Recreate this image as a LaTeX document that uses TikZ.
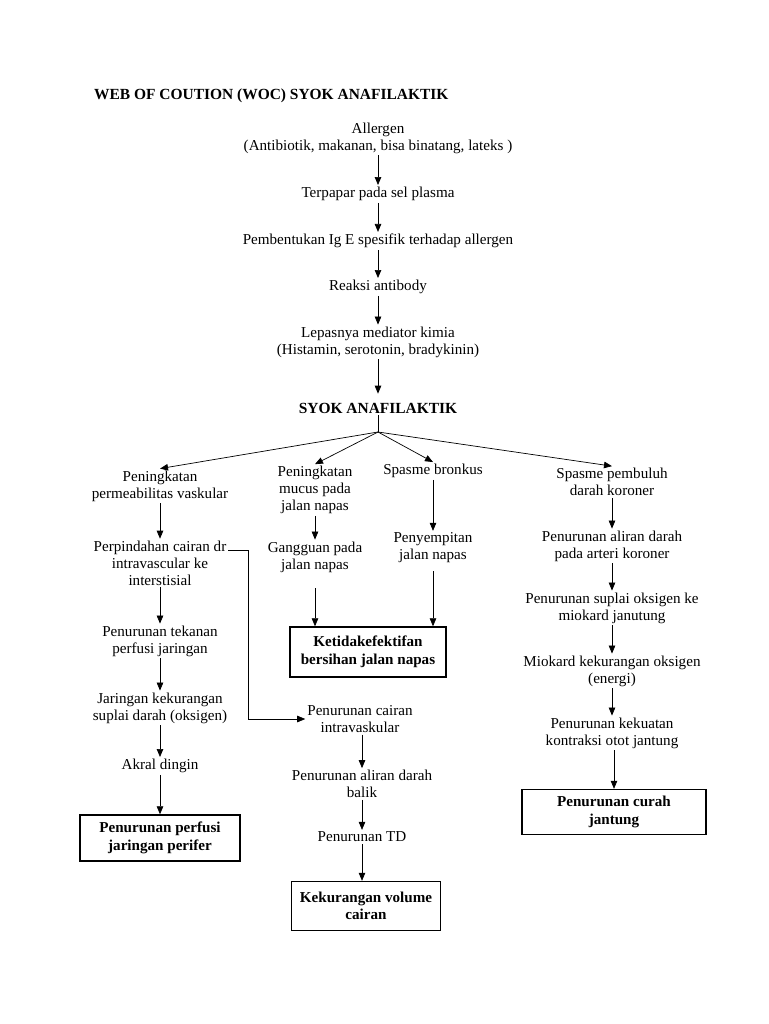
\documentclass[tikz,border=0pt]{standalone}
\usepackage{fontspec}
\setmainfont{Liberation Serif}
\usetikzlibrary{arrows.meta,positioning,calc}

\begin{document}
\begin{tikzpicture}[x=0.02cm, y=-0.02cm,
        every node/.style={font=\fontsize{8.6}{9.6}\selectfont, align=center, inner sep=1pt},
        cause/.style={},
        result/.style={draw, thick, font=\fontsize{8.6}{10}\selectfont\bfseries, inner sep=2pt},
        arr/.style={-{Triangle[length=1.6mm, width=1.3mm]}, thin},
    ]
        \useasboundingbox (0,0) rectangle (768,1024);

        % Title
        \node[font=\fontsize{8.8}{9.6}\selectfont\bfseries, anchor=west] (title) at (92,96)
              {WEB OF COUTION (WOC) SYOK ANAFILAKTIK};

        % Main chain
        \node[cause] (allergen) at (378,138) {Allergen\\(Antibiotik, makanan, bisa binatang, lateks )};
        \node[cause] (terpapar) at (378,194) {Terpapar pada sel plasma};
        \node[cause] (ige) at (378,241) {Pembentukan Ig E spesifik terhadap allergen};
        \node[cause] (reaksi) at (378,287) {Reaksi antibody};
        \node[cause] (mediator) at (378,342) {Lepasnya mediator kimia\\(Histamin, serotonin, bradykinin)};
        \node[font=\fontsize{8.8}{9.6}\selectfont\bfseries] (syok) at (378,408) {SYOK ANAFILAKTIK};
        \coordinate (split) at (378,432);

        % Left column
        \node[cause] (permeab) at (160,486) {Peningkatan\\permeabilitas vaskular};
        \node[cause] (pindah) at (160,563) {Perpindahan cairan dr\\intravascular ke\\interstisial};
        \node[cause] (tekanan) at (160,641) {Penurunan tekanan\\perfusi jaringan};
        \node[cause] (jaringan) at (160,708) {Jaringan kekurangan\\suplai darah (oksigen)};
        \node[cause] (akral) at (160,766) {Akral dingin};
        \node[result, minimum width=160*0.02cm, minimum height=46*0.02cm] (perfusi) at (160,838)
              {Penurunan perfusi\\jaringan perifer};

        % Airway columns
        \node[cause] (mucus) at (315,490) {Peningkatan\\mucus pada\\jalan napas};
        \node[cause] (gangguan) at (315,557) {Gangguan pada\\jalan napas};
        \node[cause] (bronkus) at (433,471) {Spasme bronkus};
        \node[cause] (sempit) at (433,548) {Penyempitan\\jalan napas};
        \node[result, minimum width=156*0.02cm, minimum height=50*0.02cm] (bersihan) at (368,652)
              {Ketidakefektifan\\bersihan jalan napas};

        % Middle bottom column
        \node[cause] (intravask) at (360,719) {Penurunan cairan\\intravaskular};
        \node[cause] (balik) at (362,784) {Penurunan aliran darah\\balik};
        \node[cause] (td) at (362,837) {Penurunan TD};
        \node[result, minimum width=149*0.02cm, minimum height=49*0.02cm] (volume) at (366,906)
              {Kekurangan volume\\cairan};

        % Right column
        \node[cause] (pembuluh) at (612,482) {Spasme pembuluh\\darah koroner};
        \node[cause] (aliran) at (612,546) {Penurunan aliran darah\\pada arteri koroner};
        \node[cause] (suplai) at (612,608) {Penurunan suplai oksigen ke\\miokard janutung};
        \node[cause] (miokard) at (612,671) {Miokard kekurangan oksigen\\(energi)};
        \node[cause] (kekuatan) at (612,733) {Penurunan kekuatan\\kontraksi otot jantung};
        \node[result, minimum width=184*0.02cm, minimum height=45*0.02cm] (curah) at (614,812)
              {Penurunan curah\\jantung};

        % Arrows
        \draw[arr] (allergen) -- (terpapar);
        \draw[arr] (terpapar) -- (ige);
        \draw[arr] (ige) -- (reaksi);
        \draw[arr] (reaksi) -- (mediator);
        \draw[arr, shorten >=4pt] (mediator) -- (syok);
        \draw (syok.south) -- (split);
        \draw[arr] (split) -- (permeab.north);
        \draw[arr] (split) -- (mucus.north);
        \draw[arr] (split) -- (bronkus.north);
        \draw[arr] (split) -- (pembuluh.north);
        \draw[arr] (permeab) -- (pindah);
        \draw[arr] (pindah) -- (tekanan);
        \draw[arr] (tekanan) -- (jaringan);
        \draw[arr] (jaringan) -- (akral);
        \draw[arr] (akral) -- (perfusi);
        \draw[arr] (mucus) -- (gangguan);
        \draw[arr] (gangguan.south) ++(0,14) -- (gangguan.south |- bersihan.north);
        \draw[arr] (bronkus) -- (sempit);
        \draw[arr] (sempit.south) ++(0,6) -- (sempit.south |- bersihan.north);
        \draw[arr] ($(pindah.north east)+(0,12)$) -- ++(20,0) |- (intravask.west);
        \draw[arr] (intravask.south -| balik.north) -- (balik.north);
        \draw[arr] (balik) -- (td);
        \draw[arr] (td.south) -- (td.south |- volume.north);
        \draw[arr] (pembuluh) -- (aliran);
        \draw[arr] (aliran) -- (suplai);
        \draw[arr] (suplai) -- (miokard);
        \draw[arr] (miokard) -- (kekuatan);
        \draw[arr] (kekuatan.south -| curah.north) -- (curah.north);
    \end{tikzpicture}
\end{document}
